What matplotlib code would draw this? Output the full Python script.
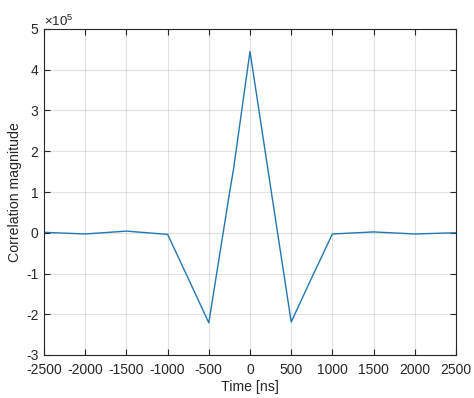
import matplotlib
matplotlib.use("Agg")
import matplotlib.pyplot as plt
import numpy as np

plt.rcParams['font.family'] = ['Liberation Sans', 'DejaVu Sans']
plt.rcParams['mathtext.fontset'] = 'custom'
plt.rcParams['mathtext.rm'] = 'Liberation Sans'
plt.rcParams['mathtext.it'] = 'Liberation Sans'

# Data (time in ns, correlation magnitude)
time_ns = [-2500, -2000, -1500, -1000, -750, -500, -250, -200, 0, 250, 500, 750, 1000, 1500, 2000, 2500]
corr = [0.01e5, -0.03e5, 0.04e5, -0.04e5, -1.12e5, -2.21e5, 0.96e5, 1.56e5, 4.45e5,
        1.12e5, -2.19e5, -1.10e5, -0.03e5, 0.02e5, -0.03e5, 0.0]

xticks = [-2500, -2000, -1500, -1000, -500, 0, 500, 1000, 1500, 2000, 2500]
yticks = [-3e5, -2e5, -1e5, 0, 1e5, 2e5, 3e5, 4e5, 5e5]
ytick_labels = ['-3', '-2', '-1', '0', '1', '2', '3', '4', '5']

fig = plt.figure(figsize=(4.74, 3.98), dpi=100)
ax = fig.add_axes([44/474, 1 - 355/398, 412/474, 326/398])

ax.plot(time_ns, corr, color='#2277b2', linewidth=1.0)

ax.set_xlim(-2500, 2500)
ax.set_ylim(-3e5, 5e5)
ax.set_xticks(xticks)
ax.set_xticklabels([str(t) for t in xticks])
ax.set_yticks(yticks)
ax.set_yticklabels(ytick_labels)

axcol = '#262626'
ax.grid(True, color='#262626', alpha=0.13, linewidth=0.8)
ax.set_axisbelow(True)
ax.tick_params(direction='in', length=4, width=0.8, colors=axcol, labelsize=10,
               top=True, right=True)
ax.tick_params(axis='x', pad=6)
ax.tick_params(axis='y', pad=4)
for s in ax.spines.values():
    s.set_color(axcol)
    s.set_linewidth(0.8)

ax.set_xlabel('Time [ns]', fontsize=10.2, color=axcol, labelpad=2)
ax.set_ylabel('Correlation magnitude', fontsize=10.2, color=axcol, labelpad=3)
ax.text(0.0, 1.0, r'$\times10^{5}$', transform=ax.transAxes, fontsize=9.5,
        color=axcol, ha='left', va='bottom')

fig.savefig('out.png', dpi=100)
